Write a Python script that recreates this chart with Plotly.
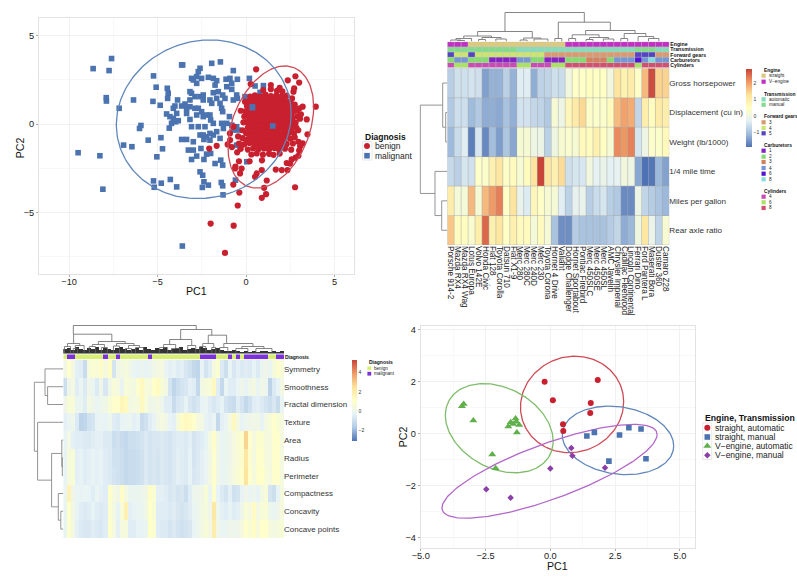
import plotly.graph_objects as go
import numpy as np

W, H = 797, 588

# ---------- Panel A: breast cancer PCA ----------
malignant_pts = [(-7.6,3.7),(-8.64,3.13),(-7.74,3.02),(-7.9,1.49),(-7.89,1.3),(-7.17,.89),(-6.36,1.36),(-5.94,-.08),(-6.02,-.25),(-6.92,-1.19),(-6.45,-1.28),(-9.49,-1.62),(-8.26,-1.79),(-8.09,-3.68),(-5.53,-.91),(-4.81,-.77),(-4.72,-1.4),(-5.04,-1.85),(-5.23,2.72),(-5.08,2.08),(-5.26,1.28),(-4.85,1.06),(-4.45,2.02),(-4.4,1.74),(-4.43,1.45),(-4.28,-3.13),(-4.79,-3.34),(-5.23,-3.21),(-5.19,-3.57),(-3.92,-3.55),(-3.6,-6.89),(-3.64,3.34),(-3.58,3.34),
(-3.87,1.36),(-4.02,1.02),(-4.11,.89),(-4.49,.57),(-4.3,.42),(-3.92,.6),(-4.11,.32),(-4.21,.04),(-4.34,-.23),(-3.98,.13),(-3.83,.19),(-3.36,.89),(-3.64,1.02),(-3.45,1.13),(-3.17,1.36),(-3.08,1.74),(-3.17,1.83),(-3.08,2.58),(-2.98,2.49),(-2.79,2.68),(-2.6,3.15),(-2.7,2.96),(-1.94,3.43),(-1.45,3.51),(-.72,3.02),(-2.79,2.3),(-2.51,2.58),(-2.13,2.64),(-1.85,2.58),(-1.66,2.45),(-1.75,2.2),(-1.13,2.53),(-.91,2.58),(-.49,2.53),(-1.09,2.11),(-.81,2.3),(-.81,1.96),(.19,2.58),(.51,2.15),(.98,2.17),(.79,1.79),
(-2.89,1.55),(-2.6,1.55),(-2.42,1.64),(-1.85,1.77),(-1.57,1.83),(-1.32,1.64),(-2.04,1.36),(-2.42,1.36),(-1.94,1.17),(-1.47,1.17),(-1.66,1.45),(-1.19,1.45),(-.72,1.36),(-.53,1.64),(-.49,1.45),(-.06,1.55),
(-3.36,.6),(-3.17,.98),(-2.89,.89),(-2.7,.89),(-2.51,.7),(-2.79,.51),(-2.23,.51),(-2.04,.51),(-2.42,.42),(-1.38,.89),(-1.32,.7),(-.94,.42),(-1.38,.04),(-1.09,.04),(-.81,-.06),(-.53,-.15),(-3.17,.26),(-3.08,-.15),(-2.7,-.15),(-2.32,-.15),(-1.85,.04),(-2.0,.23),
(-3.64,-.87),(-3.36,-.87),(-2.98,-1.0),(-2.6,-.62),(-2.42,-.62),(-2.23,-.72),(-2.04,-.53),(-1.85,-.62),(-1.66,-.43),(-1.47,-.81),(-2.04,-.91),(-2.38,-.87),(-1.28,-.25),(-.72,-.34),(-.43,-.34),(.04,-.53),
(-3.26,-1.47),(-2.98,-1.47),(-2.55,-1.38),(-3.08,-2.0),(-2.79,-1.81),(-2.38,-2.0),(-2.23,-1.7),(-2.0,-1.66),(-1.75,-2.23),(-2.6,-2.7),(-2.45,-2.89),(-2.38,-3.26),(-2.13,-3.45),(-2.47,-3.58),(-1.4,-3.3),(-1.32,-3.49),(-1.3,-4.0),(-1.43,-2.04),(-1.32,-2.32),(-.6,-3.17),(-.53,-1.19),(-.34,-1.28),(.04,-2.13)]
malignant_top_pts = [(1.51,-.11),(.36,.98),(.36,.92)]
benign_pts = [(.57,3.09),(2.79,2.7),(3.0,2.34),(2.36,2.47),(3.94,.98),(3.43,.26),(3.47,-.58),(3.2,.98),(3.02,.89),(2.72,2.02),(2.68,1.83),(2.96,-1.0),(3.2,-1.09),(3.06,-1.25),(2.96,-1.79),(2.58,-2.0),(2.49,-2.23),(2.34,-2.6),(2.02,-2.6),(1.68,-2.57),(2.77,-3.57),(1.13,-3.96),(.89,-4.17),(1.02,-3.6),(1.17,-3.19),(.89,-2.6),(.6,-2.79),(.51,-2.98),(-.34,-2.79),(-.62,-2.51),(-.25,-2.51),(-.72,-3.42),(-.38,-3.87),(-.47,-4.6),(-2.0,-5.62),(-.7,-5.74),(-1.19,-7.28),(-1.04,-1.15),(-1.66,-1.23),(-2.08,-1.38),(-.91,-.53),(-.06,1.26),(.26,2.26),(.23,1.55),
(.97,1.92),(1.4,1.97),(1.75,1.88),(2.05,1.84),(.5,1.62),(.8,1.55),(1.1,1.66),(1.4,1.58),(1.72,1.63),(2.0,1.55),(2.3,1.6),(.15,1.28),(.42,1.34),(.7,1.27),(1.02,1.35),(1.3,1.26),(1.6,1.33),(1.92,1.28),(2.2,1.34),(2.5,1.27),
(.05,1.02),(.3,.95),(.6,1.05),(.9,.97),(1.22,1.04),(1.5,.96),(1.8,1.03),(2.1,.98),(2.42,1.05),(2.7,.97),(-.05,.72),(.25,.66),(.55,.74),(.87,.68),(1.15,.73),(1.46,.65),(1.75,.72),(2.06,.67),(2.35,.74),(2.65,.68),(2.88,.75),
(-.1,.42),(.2,.36),(.5,.44),(.8,.38),(1.1,.43),(1.42,.36),(1.7,.43),(2.0,.37),(2.3,.44),(2.6,.38),(2.9,.42),(.05,.12),(.35,.06),(.65,.13),(.95,.07),(1.25,.14),(1.55,.08),(1.85,.13),(2.15,.06),(2.45,.12),(2.8,.08),(3.05,.3),
(.1,-.2),(.4,-.25),(.7,-.17),(1.02,-.24),(1.3,-.18),(1.62,-.23),(1.9,-.16),(2.2,-.24),(2.5,-.18),(2.85,-.22),(0,-.5),(.3,-.56),(.6,-.47),(.9,-.54),(1.22,-.49),(1.5,-.55),(1.8,-.46),(2.1,-.53),(2.4,-.48),(2.7,-.54),
(-.2,-.8),(.1,-.85),(.4,-.77),(.7,-.84),(1.02,-.78),(1.3,-.83),(1.6,-.76),(1.92,-.84),(2.2,-.79),(2.5,-.83),(-.4,-1.1),(-.1,-1.15),(.2,-1.07),(.5,-1.14),(.82,-1.08),(1.1,-1.13),(1.4,-1.06),(1.7,-1.14),(2.0,-1.09),(2.3,-1.12),(2.65,-1.1),
(-.3,-1.4),(.1,-1.44),(.4,-1.37),(.7,-1.43),(1.02,-1.38),(1.3,-1.44),(1.6,-1.36),(1.85,-1.42),(2.2,-1.39),(3.0,-1.5),(.3,-1.72),(.6,-1.66),(.95,-1.73),(1.3,-1.68),(1.55,-1.74),(1.9,-1.67),(2.8,-1.9),(2.3,-2.2),
(-.9,-.9),(-.8,-1.3),(-.5,-1.6),(-.4,-2.1),(-.6,-2.4),(.2,-2.1),(.9,-2.05),(-.2,-.35),(-.45,-.7),(-.7,-.15),(-.15,.1),(-.3,.75),(1.4,2.2),(1.9,2.05),(2.6,1.45),(2.75,1.1),(3.1,.55),(2.95,-.35),(2.75,-.75),(2.55,-1.45),
(.65,1.45),(.95,1.5),(1.25,1.47),(1.55,1.48),(1.85,1.45),(2.15,1.47),(.3,1.15),(.55,1.18),(.85,1.14),(1.15,1.17),(1.45,1.15),(1.75,1.18),(2.05,1.13),(2.35,1.16),(.15,.85),(.45,.88),(.75,.84),(1.05,.87),(1.35,.83),(1.65,.86),(1.95,.84),(2.25,.87),(2.55,.83),
(.05,.55),(.35,.58),(.65,.54),(.95,.57),(1.25,.55),(1.55,.58),(1.85,.54),(2.15,.57),(2.45,.55),(.2,.24),(.5,.27),(.8,.23),(1.1,.26),(1.4,.22),(1.7,.25),(2.0,.23),(2.3,.26),(2.62,.22),(.25,-.07),(.55,-.04),(.85,-.08),(1.15,-.05),(1.45,-.07),(1.75,-.03),(2.05,-.08),(2.35,-.05),(2.65,-.07),
(.15,-.37),(.45,-.4),(.75,-.36),(1.05,-.39),(1.35,-.35),(1.65,-.39),(1.95,-.36),(2.25,-.4),(2.55,-.35),(.25,-.68),(.55,-.66),(.85,-.7),(1.15,-.65),(1.45,-.69),(1.75,-.66),(2.05,-.7),(2.35,-.65),(.05,-.98),(.35,-.95),(.65,-.99),(.95,-.96),(1.25,-.98),(1.55,-.95),(1.85,-.97),(2.15,-.96),(.55,-1.28),(.85,-1.25),(1.15,-1.29),(1.45,-1.26),(1.75,-1.28),(2.05,-1.25)]

# ellipse parameters: centre, half-extent, correlation
ell_A_blue = (-2.39, 0.27, 4.94, 4.48, 0.07)
ell_A_red = (1.40, -0.17, 2.42, 3.45, 0.33)

# ---------- Panel D: mtcars PCA ----------
sa_pts = [(-.22,2.0),(1.83,2.07),(.10,1.29),(1.56,1.18),(1.54,.80),(.49,.36),(.50,.10)]
sm_pts = [(1.41,-.09),(1.70,.05),(2.26,-1.06),(2.67,-.05),(3.03,.23),(3.50,.18),(3.69,-.97)]
va_pts = [(-3.41,1.06),(-3.34,1.14),(-2.97,.51),(-2.24,-.80),(-2.11,-1.33),(-1.62,.28),(-1.53,.44),(-1.34,.58),(-1.29,.04),(-1.20,.33),(-1.43,.37),(-1.31,.46)]
vm_pts = [(-2.47,-2.14),(-1.53,-2.47),(0.0,-1.34),(.81,-.55),(.85,-.85),(2.11,-1.31)]
ell_D_red = (0.84, 1.126, 1.99, 1.86, 0.055)
ell_D_green = (-1.97, 0.21, 2.08, 1.72, -0.29)
ell_D_blue = (2.61, -0.26, 2.15, 1.32, -0.16)
ell_D_purple = (-0.03, -1.45, 4.15, 1.81, 0.78)

# ---------- Panel B: mtcars heatmap ----------
cars = ["Porsche 914-2","Mazda RX4","Mazda RX4 Wag","Lotus Europa","Volvo 142E","Honda Civic","Fiat 128","Toyota Corolla","Datsun 710","Fiat X1-9","Merc 280","Merc 280C","Merc 240D","Merc 230","Toyota Corona","Hornet 4 Drive","Valiant","Dodge Challenger","Hornet Sportabout","Pontiac Firebird","Merc 450SLC","Merc 450SE","Merc 450SL","AMC Javelin","Chrysler Imperial","Cadillac Fleetwood","Lincoln Continental","Ferrari Dino","Ford Pantera L","Maserati Bora","Duster 360","Camaro Z28"]
car_rows = ["Gross horsepower","Displacement (cu in)","Weight (lb/1000)","1/4 mile time","Miles per gallon","Rear axle ratio"]
hp_vals = [-.81,-.54,-.54,-.49,-.55,-1.38,-1.18,-1.19,-.78,-1.18,-.35,-.35,-1.24,-.75,-.72,-.54,-.61,.05,.41,.41,.49,.49,.49,.05,1.21,.85,1.0,.41,1.71,2.75,1.43,1.43]
disp_vals = [-.89,-.57,-.57,-1.09,-.89,-1.25,-1.23,-1.29,-.99,-1.22,-.51,-.51,-.68,-.73,-.89,.22,-.05,.70,1.04,1.37,.36,.36,.36,.59,1.69,1.95,1.85,-.69,.97,.57,1.04,.96]
wt_vals = [-1.10,-.61,-.35,-1.74,-.45,-1.64,-1.04,-1.41,-.92,-1.31,.23,.23,-.03,-.07,-.77,0,.25,.31,.23,.64,.58,.87,.52,.22,2.18,2.08,2.26,-.46,-.05,.36,.36,.64]
qsec_vals = [-.64,-.78,-.46,-.53,.42,.37,.91,1.15,.43,.59,.25,.59,1.20,2.83,1.21,.89,1.33,-.55,-.46,-.45,.08,-.25,-.14,-.31,-.24,.07,-.02,-1.31,-1.87,-1.82,-1.12,-1.36]
mpg_vals = [.98,.15,.15,1.71,.22,1.71,2.04,2.29,.45,1.20,-.15,-.38,.72,.45,.23,.22,-.33,-.76,-.23,-.15,-.81,-.61,-.46,-.81,-.89,-1.61,-1.61,-.06,-.71,-.84,-.96,-1.13]
drat_vals = [1.56,.57,.57,.32,.96,2.49,.90,1.16,.47,.90,.60,.60,.17,.60,.19,-.97,-1.56,-1.56,-.84,-.97,-.98,-.98,-.98,-.84,-.69,-1.25,-1.12,.04,1.16,-.11,-.72,.25]
engine = list("VVVSSSSSSSSSSSSSSVVVVVVVVVVVVVVV")
transmission = ["m","m","m","m","m","m","m","m","m","m","a","a","a","a","a","a","a","a","a","a","a","a","a","a","a","a","a","m","m","m","a","a"]
gears = [5,4,4,5,4,4,4,4,4,4,4,4,4,4,3,3,3,3,3,3,3,3,3,3,3,3,3,5,5,5,3,3]
carbs = [2,4,4,2,2,2,1,1,1,1,4,4,2,2,1,1,1,2,2,2,3,3,3,2,4,4,4,6,4,8,4,4]
cylinders = [4,6,6,4,4,4,4,4,4,4,6,6,4,4,4,6,6,8,8,8,8,8,8,8,8,8,8,6,8,8,8,8]
ann_rows = ["Engine","Transmission","Forward gears","Carburetors","Cylinders"]
engine_colors = {"S":"#dccb7c","V":"#c22fc4"}
trans_colors = {"a":"#84dcb9","m":"#82dc8c"}
gear_colors = {3:"#d99a70",4:"#cbe56f",5:"#5444c2"}
carb_colors = {1:"#8422c4",2:"#84dc70",3:"#d2825f",4:"#7496d4",6:"#5212d2",8:"#86dcdc"}
cyl_colors = {4:"#c94bb4",6:"#a9e35f",8:"#d24f70"}
B_col_tree = (29,
  (10,(5.5,(3,(1.5,.5,(1,1.5,2.5)),3.5),(4,(2,4.5,5.5),(2.5,7,8.5))),(3.5,(1.5,10.5,11.5),(2.5,12.5,14.5))),
  (19.3,(3,15.5,16.5),(11,(6.7,(3,17.5,18.5),(4,(2,20,21),(2.5,22.5,24))),(8,(3,25,26),(5,27.5,(3,29,30.5))))))
B_row_tree = (27,(4.6,0,(1.6,1,2)),(12.3,3,(5.6,4,5)))

# ---------- Panel C: breast cancer heatmap ----------
bc_rows = ["Symmetry","Smoothness","Fractal dimension","Texture","Area","Radius","Perimeter","Compactness","Concavity","Concave points"]
symmetry = [.2,1.0,.3,-.4,-.5,-1.1,.5,.8,.6,1.2,.4,1.2,-.8,.2,.3,.5,.2,-.2,-.3,-.1,-.3,-.1,.2,.3,.4,-.2,-.4,-.3,-.5,-.4,-.7,-.9,-1.2,-1.3,-.3,-.8,-.5,.5,.8,-.6,-1.0,-.2,-.7,-.4,-.6,-.5,-.6,-.3,-.6,-.1,.1,-.2,.5,.9,.6]
smoothness = [-1.0,.1,.3,-.5,-.2,-.6,.1,-.1,-.6,.1,-.7,.2,.6,.4,-.2,.6,.5,.3,.9,1.4,.6,.5,1.1,1.3,.7,.3,-.8,-1.3,-1.0,-.8,-.7,-.4,-.5,-1.2,.3,.5,.6,1.4,-.5,-1.2,-.2,-.5,-.5,-.2,.1,-.3,.2,.3,-.2,.2,0,-1.4,-.6,-.3,.3]
fractal = [.1,.7,.6,-.1,-.1,-.5,.3,.1,-.2,0,.2,.7,1.0,1.0,1.6,1.4,.3,.4,.5,1.4,.6,.1,.2,.3,0,-.5,-.5,-1.1,-.7,-.6,-.3,-.7,-.9,-.7,-.3,-.2,-.5,-.7,-.5,-.3,-.8,-1.0,-1.1,-.5,-.8,-1.2,-.9,-.5,-.4,-.6,-.8,-1.0,-.7,-1.1,-.2]
texture = [-.4,-.2,.1,-.6,-1.4,-1.3,-.9,-.8,-.3,-.2,-.3,0,-.5,-.6,-.3,-.2,-.1,-.4,-.3,-1.1,-.9,-.5,-.3,.2,.4,.2,-.3,-.4,.5,1.2,1.4,1.3,1.0,.4,.3,-.3,-.4,-.2,-1.2,-.4,-.2,.4,1.4,.3,-.3,0,.1,.2,.2,-.3,.3,.6,1.0,.7,.4]
area = [-.3,.3,-.4,-.5,-.5,-.6,-.6,-.5,-.4,-.4,-.6,-.6,-1.0,-.9,-1.1,-1.2,-1.0,-1.0,-.9,-.8,-.6,-.8,-.7,-.7,-.6,-.7,-.8,-.6,-.5,-.5,-.6,-.4,-.8,-.6,-.5,-.3,.3,1.2,.2,-.2,-.1,.1,.4,.7,1.0,2.8,1.0,.4,.9,.9,.5,.4,1.0,1.0,.4]
radius = [-.3,.5,.6,-.4,-.3,-.5,-.4,-.3,-.4,-.3,-.5,-.6,-.9,-.9,-1.0,-1.2,-1.1,-1.1,-1.0,-.9,-.6,-.8,-.7,-.8,-.6,-.7,-.8,-.6,-.4,-.5,-.6,-.3,-.8,-.6,-.4,-.2,.2,1.0,.2,-.2,-.1,.1,.4,.6,.9,2.3,.9,.4,1.0,1.0,.5,.4,1.0,1.0,.4]
perimeter = [-.3,.5,.7,-.4,-.3,-.5,-.4,-.3,-.4,-.3,-.5,-.6,-.8,-.9,-1.0,-1.2,-1.1,-1.1,-1.0,-.9,-.6,-.8,-.7,-.8,-.6,-.7,-.8,-.6,-.4,-.5,-.6,-.3,-.7,-.6,-.4,-.2,.3,1.0,.2,-.2,-.1,.2,.5,.7,1.0,2.4,1.0,.5,1.0,1.1,.6,.4,1.0,1.0,.4]
compactness = [-.2,1.7,.1,-.2,-.3,-.2,-.3,-.5,-.2,-.4,-.5,1.0,.4,.2,1.2,.3,-.1,-.1,-.1,0,.2,1.2,.8,-.4,-.4,-.5,-.7,-.6,-.8,-.7,-1.0,-.5,0,.1,.2,.7,-.2,1.0,-.3,-.6,-.8,-.4,-.9,-.8,-.3,.1,-.2,0,-.3,.3,.6,-.8,-1.0,-.3,.5]
concavity = [-.2,1.1,.2,-.3,-.5,-.6,-.5,-.3,-.5,-.6,-.5,.8,.3,-.3,.6,1.8,-.4,-.3,-.2,-.1,.2,1.1,.7,-.5,-.5,-.5,-.6,-.5,-.7,-.8,-.7,-.5,-.2,0,.3,.5,.2,2.2,0,-.4,-.5,-.3,-.5,-.4,.1,.7,.4,1.3,.3,.6,.7,0,-.2,.1,.5]
concave_points = [-.3,1.0,.3,-.4,-.6,-.7,-.7,-.5,-.6,-.7,-.5,1.0,.4,-.4,.5,.5,-.5,-.5,-.3,-.3,-.1,1.1,.8,-.5,-.6,-.6,-.8,-.6,-.8,-.9,-.8,-.7,-.3,0,.3,.6,.3,2.0,.2,-.2,-.2,.1,0,.1,.4,1.0,.7,1.2,.5,1.1,1.0,.5,.3,.5,.7]
diagnosis_band = ["b","m","m","b","b","b","b","b","b","b","m","b","b","m","b","b","b","b","b","b","b","m","b","b","b","b","b","b","b","b","b","b","b","b","m","m","m","m","b","b","b","m","b","m","b","m","m","m","m","m","m","b","b","m","m"]
C_leaf_heights = [5,6,4,7,5,4,6,5,7,4,6,5,4,6,7,5,4,5,6,4,7,5,4,6,5,7,4,5,6,7,4,5,6,5,7,6,4,5,6,4,3,3,4,3,2,3,2,3,2,3,3,2,3,2,3]
C_col_tree = (28,
  (19.3,(10,(7,.3,1.8),(8,(5,2.5,3.5),5.2)),(12,(9,(7,6.5,8),(6,9.5,11)),(10,(7.5,12.5,14),(8,(5,15.5,17),(6,18,20)))),2.5),
  (24,(14,(9,(6,24,26),(5,27,29)),(8,31,33)),
      (18.3,(10,(7,34,35.5),(6,37,38)),(10,(6,39,41),(7,(5,43,46),(5,48,52)),40.7),37)))
C_row_tree = (29,(18.3,0,(15.7,1,2)),(25.7,3,(11.7,(1.5,4,(1,5,6)),(5,7,(2.5,8,9)))))

HEAT = [[0,"#4f72b5"],[1/6,"#a0bcdc"],[2/6,"#e4f0f4"],[3/6,"#ffffc4"],[4/6,"#fde39c"],[5/6,"#f09a66"],[1,"#c94338"]]
HEAT_C = [[0,"#4f72b5"],[1/6,"#b0cae6"],[2/6,"#e8f3f6"],[3/6,"#ffffc8"],[4/6,"#fde39c"],[5/6,"#f09a66"],[1,"#c94338"]]
RED, BLUE, GREEN, PURPLE = "#c8202f", "#4a73b0", "#5fb04a", "#8a3fa8"
FONT = "Liberation Sans"


def dx(a, b):
    return [a / W, b / W]


def dy(top, bottom):
    return [1 - bottom / H, 1 - top / H]


def ellipse(p, n=200):
    cx, cy, rx, ry, rho = p
    t = np.linspace(0, 2 * np.pi, n)
    return cx + rx * np.cos(t), cy + ry * np.cos(t - np.arccos(rho))


def dendro(node):
    xs, hs = [], []

    def walk(n):
        if not isinstance(n, tuple):
            return n, 0
        lp, lh = walk(n[1])
        rp, rh = walk(n[2])
        h = n[0]
        xs.extend([lp, lp, rp, rp, None])
        hs.extend([lh, h, h, rh, None])
        return (n[3] if len(n) > 3 else (lp + rp) / 2), h
    walk(node)
    return xs, hs


def unzip(pts):
    return [p[0] for p in pts], [p[1] for p in pts]


fig = go.Figure()
lay = {}


def axes(i, xdom, ydom, xkw=None, ykw=None):
    s = "" if i == 1 else str(i)
    base = dict(anchor=None, showgrid=False, zeroline=False, showticklabels=False, ticks="", showline=False, automargin=False)
    xa = dict(base, domain=xdom, anchor="y" + s)
    ya = dict(base, domain=ydom, anchor="x" + s)
    xa.update(xkw or {})
    ya.update(ykw or {})
    lay["xaxis" + s] = xa
    lay["yaxis" + s] = ya


def sc_axis(rng, dtick, minor, standoff=0):
    return dict(range=rng, dtick=dtick, showticklabels=True, ticks="outside", ticklen=2, tickcolor="#aaa", tickwidth=0.8,
                showgrid=True, gridcolor="#f1f1f1", gridwidth=0.8, minor=dict(showgrid=True, gridcolor="#f8f8f8", dtick=minor),
                showline=True, mirror=True, linecolor="#e2e2e2", linewidth=1, ticklabelstandoff=standoff,
                tickfont=dict(size=9.2, color="#222", family=FONT))


# Panel A
axes(1, dx(39, 354), dy(18, 274), sc_axis([-11.7, 6.1], 5, 2.5, -3), sc_axis([-8.47, 5.99], 5, 2.5))
x, y = unzip(malignant_pts)
fig.add_trace(go.Scatter(x=x, y=y, mode="markers", marker=dict(symbol="square", size=5.6, color=BLUE), name="malignant", xaxis="x", yaxis="y"))
x, y = unzip(benign_pts)
fig.add_trace(go.Scatter(x=x, y=y, mode="markers", marker=dict(symbol="circle", size=6.2, color=RED), name="benign", xaxis="x", yaxis="y"))
x, y = unzip(malignant_top_pts)
fig.add_trace(go.Scatter(x=x, y=y, mode="markers", marker=dict(symbol="square", size=5.6, color=BLUE), xaxis="x", yaxis="y"))
for p, c in ((ell_A_red, "#cf4a55"), (ell_A_blue, "#5f87bb")):
    ex, ey = ellipse(p)
    fig.add_trace(go.Scatter(x=ex, y=ey, mode="lines", line=dict(color=c, width=1.3), xaxis="x", yaxis="y"))

# Panel D
axes(2, dx(420.7, 694.7), dy(326, 548.3),
     dict(sc_axis([-5, 5.57], 2.5, 1.25, -3), tickformat=".1f"), sc_axis([-4.42, 4.15], 2, 1))
for p, c in ((ell_D_red, "#cf4a55"), (ell_D_blue, "#5f87bb"), (ell_D_green, "#7fbd6a"), (ell_D_purple, "#b368c9")):
    ex, ey = ellipse(p)
    fig.add_trace(go.Scatter(x=ex, y=ey, mode="lines", line=dict(color=c, width=1.3), xaxis="x2", yaxis="y2"))
for pts, sym, size, col, name in ((sa_pts, "circle", 6, RED, "straight, automatic"), (sm_pts, "square", 5.6, BLUE, "straight, manual"),
                                  (va_pts, "triangle-up", 7, GREEN, "V-engine, automatic"), (vm_pts, "diamond", 5, PURPLE, "V-engine, manual")):
    x, y = unzip(pts)
    fig.add_trace(go.Scatter(x=x, y=y, mode="markers", marker=dict(symbol=sym, size=size, color=col), name=name, xaxis="x2", yaxis="y2"))


def grid_trace(nx, ny, xa, ya, color="#a8a8a8", width=0.5):
    xs, ys = [], []
    for k in range(nx + 1):
        xs += [k - .5, k - .5, None]
        ys += [-.5, ny - .5, None]
    for k in range(ny + 1):
        xs += [-.5, nx - .5, None]
        ys += [k - .5, k - .5, None]
    return go.Scatter(x=xs, y=ys, mode="lines", line=dict(color=color, width=width), xaxis=xa, yaxis=ya)


# Panel B heat
b_z = [hp_vals, disp_vals, wt_vals, qsec_vals, mpg_vals, drat_vals]
L, R, T, B = 447.3, 669.3, 68.3, 245
axes(3, dx(L, R), dy(T, B),
     dict(range=[-.5, 31.5], tickmode="array", tickvals=list(range(32)), ticktext=cars, showticklabels=True, tickangle=90,
          tickfont=dict(size=8.2, color="#222", family=FONT), ticks=""),
     dict(range=[5.5, -.5], tickmode="array", tickvals=list(range(6)), ticktext=car_rows, showticklabels=True, side="right",
          tickfont=dict(size=8.1, color="#333", family=FONT), ticks="", ticklabelstandoff=-1))
fig.add_trace(go.Heatmap(z=b_z, zmin=-1.87, zmax=2.83, colorscale=HEAT, xaxis="x3", yaxis="y3",
                         colorbar=dict(x=746 / W, xanchor="left", y=1 - 69 / H, yanchor="top", len=78, lenmode="pixels", thickness=6, thicknessmode="pixels",
                                       xpad=0, ypad=0, outlinewidth=0, tickvals=[-1, 0, 1, 2], ticks="",
                                       tickfont=dict(size=5, color="#333", family=FONT))))
fig.add_trace(grid_trace(32, 6, "x3", "y3"))

# annotation rows B
palette = []
rows = []
for vals, cmap in ((engine, engine_colors), (transmission, trans_colors), (gears, gear_colors), (carbs, carb_colors), (cylinders, cyl_colors)):
    row = []
    for v in vals:
        c = cmap[v]
        if c not in palette:
            palette.append(c)
        row.append(palette.index(c))
    rows.append(row)
n = len(palette)
stepped = []
for i, c in enumerate(palette):
    stepped += [[i / n, c], [(i + 1) / n, c]]
axes(4, dx(L, R), dy(41.7, 67.7), dict(range=[-.5, 31.5]),
     dict(range=[4.5, -.5], tickmode="array", tickvals=list(range(5)), ticktext=ann_rows, showticklabels=True, side="right",
          tickfont=dict(size=5.2, color="#111", family=FONT, weight=700), ticks=""))
fig.add_trace(go.Heatmap(z=rows, zmin=-.5, zmax=n - .5, colorscale=stepped, showscale=False, xaxis="x4", yaxis="y4"))
fig.add_trace(grid_trace(32, 5, "x4", "y4", "#c4c4c4", 0.5))

# dendrograms B
axes(5, dx(L, R), dy(12, 41.5), dict(range=[0, 32]), dict(range=[0, 29.5]))
xs, hs = dendro(B_col_tree)
fig.add_trace(go.Scatter(x=xs, y=hs, mode="lines", line=dict(color="#777", width=0.9), xaxis="x5", yaxis="y5"))
axes(6, dx(419.3, L), dy(T, B), dict(range=[28, 0]), dict(range=[5.5, -.5]))
xs, hs = dendro(B_row_tree)
fig.add_trace(go.Scatter(x=hs, y=xs, mode="lines", line=dict(color="#888", width=0.9), xaxis="x6", yaxis="y6"))

# Panel C heat
c_z = [symmetry, smoothness, fractal, texture, area, radius, perimeter, compactness, concavity, concave_points]
L2, R2, T2, B2 = 63.3, 284, 360, 538
axes(7, dx(L2, R2), dy(T2, B2), dict(range=[-.5, 54.5]),
     dict(range=[9.5, -.5], tickmode="array", tickvals=list(range(10)), ticktext=bc_rows, showticklabels=True, side="right",
          tickfont=dict(size=8, color="#333", family=FONT), ticks="", ticklabelstandoff=-1))
fig.add_trace(go.Heatmap(z=c_z, zmin=-3.1, zmax=5.3, colorscale=HEAT_C, xaxis="x7", yaxis="y7",
                         colorbar=dict(x=352 / W, xanchor="left", y=1 - T2 / H, yanchor="top", len=80.7, lenmode="pixels", thickness=5.3, thicknessmode="pixels",
                                       xpad=0, ypad=0, outlinewidth=0, tickvals=[-2, 0, 2, 4], ticks="",
                                       tickfont=dict(size=5, color="#333", family=FONT))))
axes(8, dx(L2, R2), dy(354.3, 359.3), dict(range=[-.5, 54.5]),
     dict(range=[.5, -.5], tickmode="array", tickvals=[0], ticktext=["Diagnosis"], showticklabels=True, side="right",
          tickfont=dict(size=5, color="#111", family=FONT, weight=700), ticks=""))
fig.add_trace(go.Heatmap(z=[[1 if d == "m" else 0 for d in diagnosis_band]], zmin=0, zmax=1,
                         colorscale=[[0, "#d9ef72"], [.5, "#d9ef72"], [.5, "#7b33d9"], [1, "#7b33d9"]], showscale=False, xaxis="x8", yaxis="y8"))
axes(9, dx(L2, R2), dy(325, 353.5), dict(range=[0, 55]), dict(range=[0, 28.5]))
fig.add_trace(go.Bar(x=[k + .5 for k in range(55)], y=C_leaf_heights, width=1, marker=dict(color="#333", line=dict(width=0)), xaxis="x9", yaxis="y9"))
xs, hs = dendro(C_col_tree)
fig.add_trace(go.Scatter(x=xs, y=hs, mode="lines", line=dict(color="#666", width=0.8), xaxis="x9", yaxis="y9"))
axes(10, dx(33.3, L2), dy(T2, B2), dict(range=[30, 0]), dict(range=[9.5, -.5]))
xs, hs = dendro(C_row_tree)
fig.add_trace(go.Scatter(x=hs, y=xs, mode="lines", line=dict(color="#888", width=0.9), xaxis="x10", yaxis="y10"))

# Pixel overlay for the hand-built keys
axes(11, [0, 1], [0, 1], dict(range=[0, W]), dict(range=[H, 0]))
ann = []


def txt(x, y, s, size, bold=False, color="#222"):
    ann.append(dict(xref="paper", yref="paper", x=x / W, y=1 - y / H, xanchor="left", yanchor="middle", text=("<b>%s</b>" % s) if bold else s,
                    showarrow=False, font=dict(size=size, color=color, family=FONT)))


def axis_title(x, y, s, angle=0):
    ann.append(dict(xref="paper", yref="paper", x=x / W, y=1 - y / H, xanchor="center", yanchor="middle", text=s, textangle=angle,
                    showarrow=False, font=dict(size=10.6, color="#111", family=FONT)))


axis_title(196.7, 290.7, "PC1")
axis_title(20.3, 148, "PC2", -90)
axis_title(557, 566, "PC1")
axis_title(402.5, 436.7, "PC2", -90)


def key(x, y, sym, size, color):
    fig.add_trace(go.Scatter(x=[x], y=[y], mode="markers", marker=dict(symbol=sym, size=size, color=color), xaxis="x11", yaxis="y11"))


# legend A
shapes = [dict(type="rect", xref="x11", yref="y11", x0=362.7, x1=372, y0=141.5, y1=160, line=dict(color="#e2e2e2", width=0.8)),
          dict(type="rect", xref="x11", yref="y11", x0=702.7, x1=711.7, y0=423, y1=459.5, line=dict(color="#e2e2e2", width=0.8))]
txt(362.5, 136.5, "Diagnosis", 8.5, True, "#111")
for yy, lab, sym, sz, col in ((146, "benign", "circle", 6, RED), (155.7, "malignant", "square", 5.6, BLUE)):
    key(367, yy, sym, sz, col)
    txt(372.5, yy, lab, 8.5)
# legend D
txt(702.5, 417.7, "Engine, Transmission", 8.7, True, "#111")
for yy, lab, sym, sz, col in ((427.7, "straight, automatic", "circle", 6, RED), (437, "straight, manual", "square", 5.6, BLUE),
                              (446, "V\u2212engine, automatic", "triangle-up", 7, GREEN), (455.3, "V\u2212engine, manual", "diamond", 5, PURPLE)):
    key(707.3, yy, sym, sz, col)
    txt(713.3, yy, lab, 8.5)
# legend B
groups = [("Engine", 70.7, [(75.7, "straight", engine_colors["S"]), (81.7, "V\u2212engine", engine_colors["V"])]),
          ("Transmission", 94, [(99.3, "automatic", trans_colors["a"]), (104.7, "manual", trans_colors["m"])]),
          ("Forward gears", 116.7, [(122.3, "3", gear_colors[3]), (128, "4", gear_colors[4]), (133.3, "5", gear_colors[5])]),
          ("Carburetors", 145.3, [(150.7, "1", carb_colors[1]), (156.7, "2", carb_colors[2]), (162, "3", carb_colors[3]), (168, "4", carb_colors[4]), (173.7, "6", carb_colors[6]), (179.3, "8", carb_colors[8])]),
          ("Cylinders", 191, [(196.7, "4", cyl_colors[4]), (202.3, "6", cyl_colors[6]), (208, "8", cyl_colors[8])])]
for title, yy, items in groups:
    txt(761.5, yy, title, 4.9, True, "#111")
    for y_, lab, col in items:
        key(763.6, y_, "square", 4.2, col)
        txt(766.7, y_, lab, 4.7)
# legend C
txt(366.7, 362.3, "Diagnosis", 5, True, "#111")
key(369.3, 368.3, "square", 3.8, "#d9ef72")
txt(372, 368.3, "benign", 4.6)
key(369.3, 373.7, "square", 3.8, "#7b33d9")
txt(372, 373.7, "malignant", 4.6)

fig.update_layout(width=W, height=H, margin=dict(l=0, r=0, t=0, b=0), paper_bgcolor="white", plot_bgcolor="rgba(0,0,0,0)",
                  showlegend=False, annotations=ann, shapes=shapes, bargap=0, font=dict(family=FONT), **lay)
fig.write_html("out.html", config=dict(displayModeBar=False),
               post_script="document.body.style.margin='0';document.documentElement.style.overflow='hidden';")
